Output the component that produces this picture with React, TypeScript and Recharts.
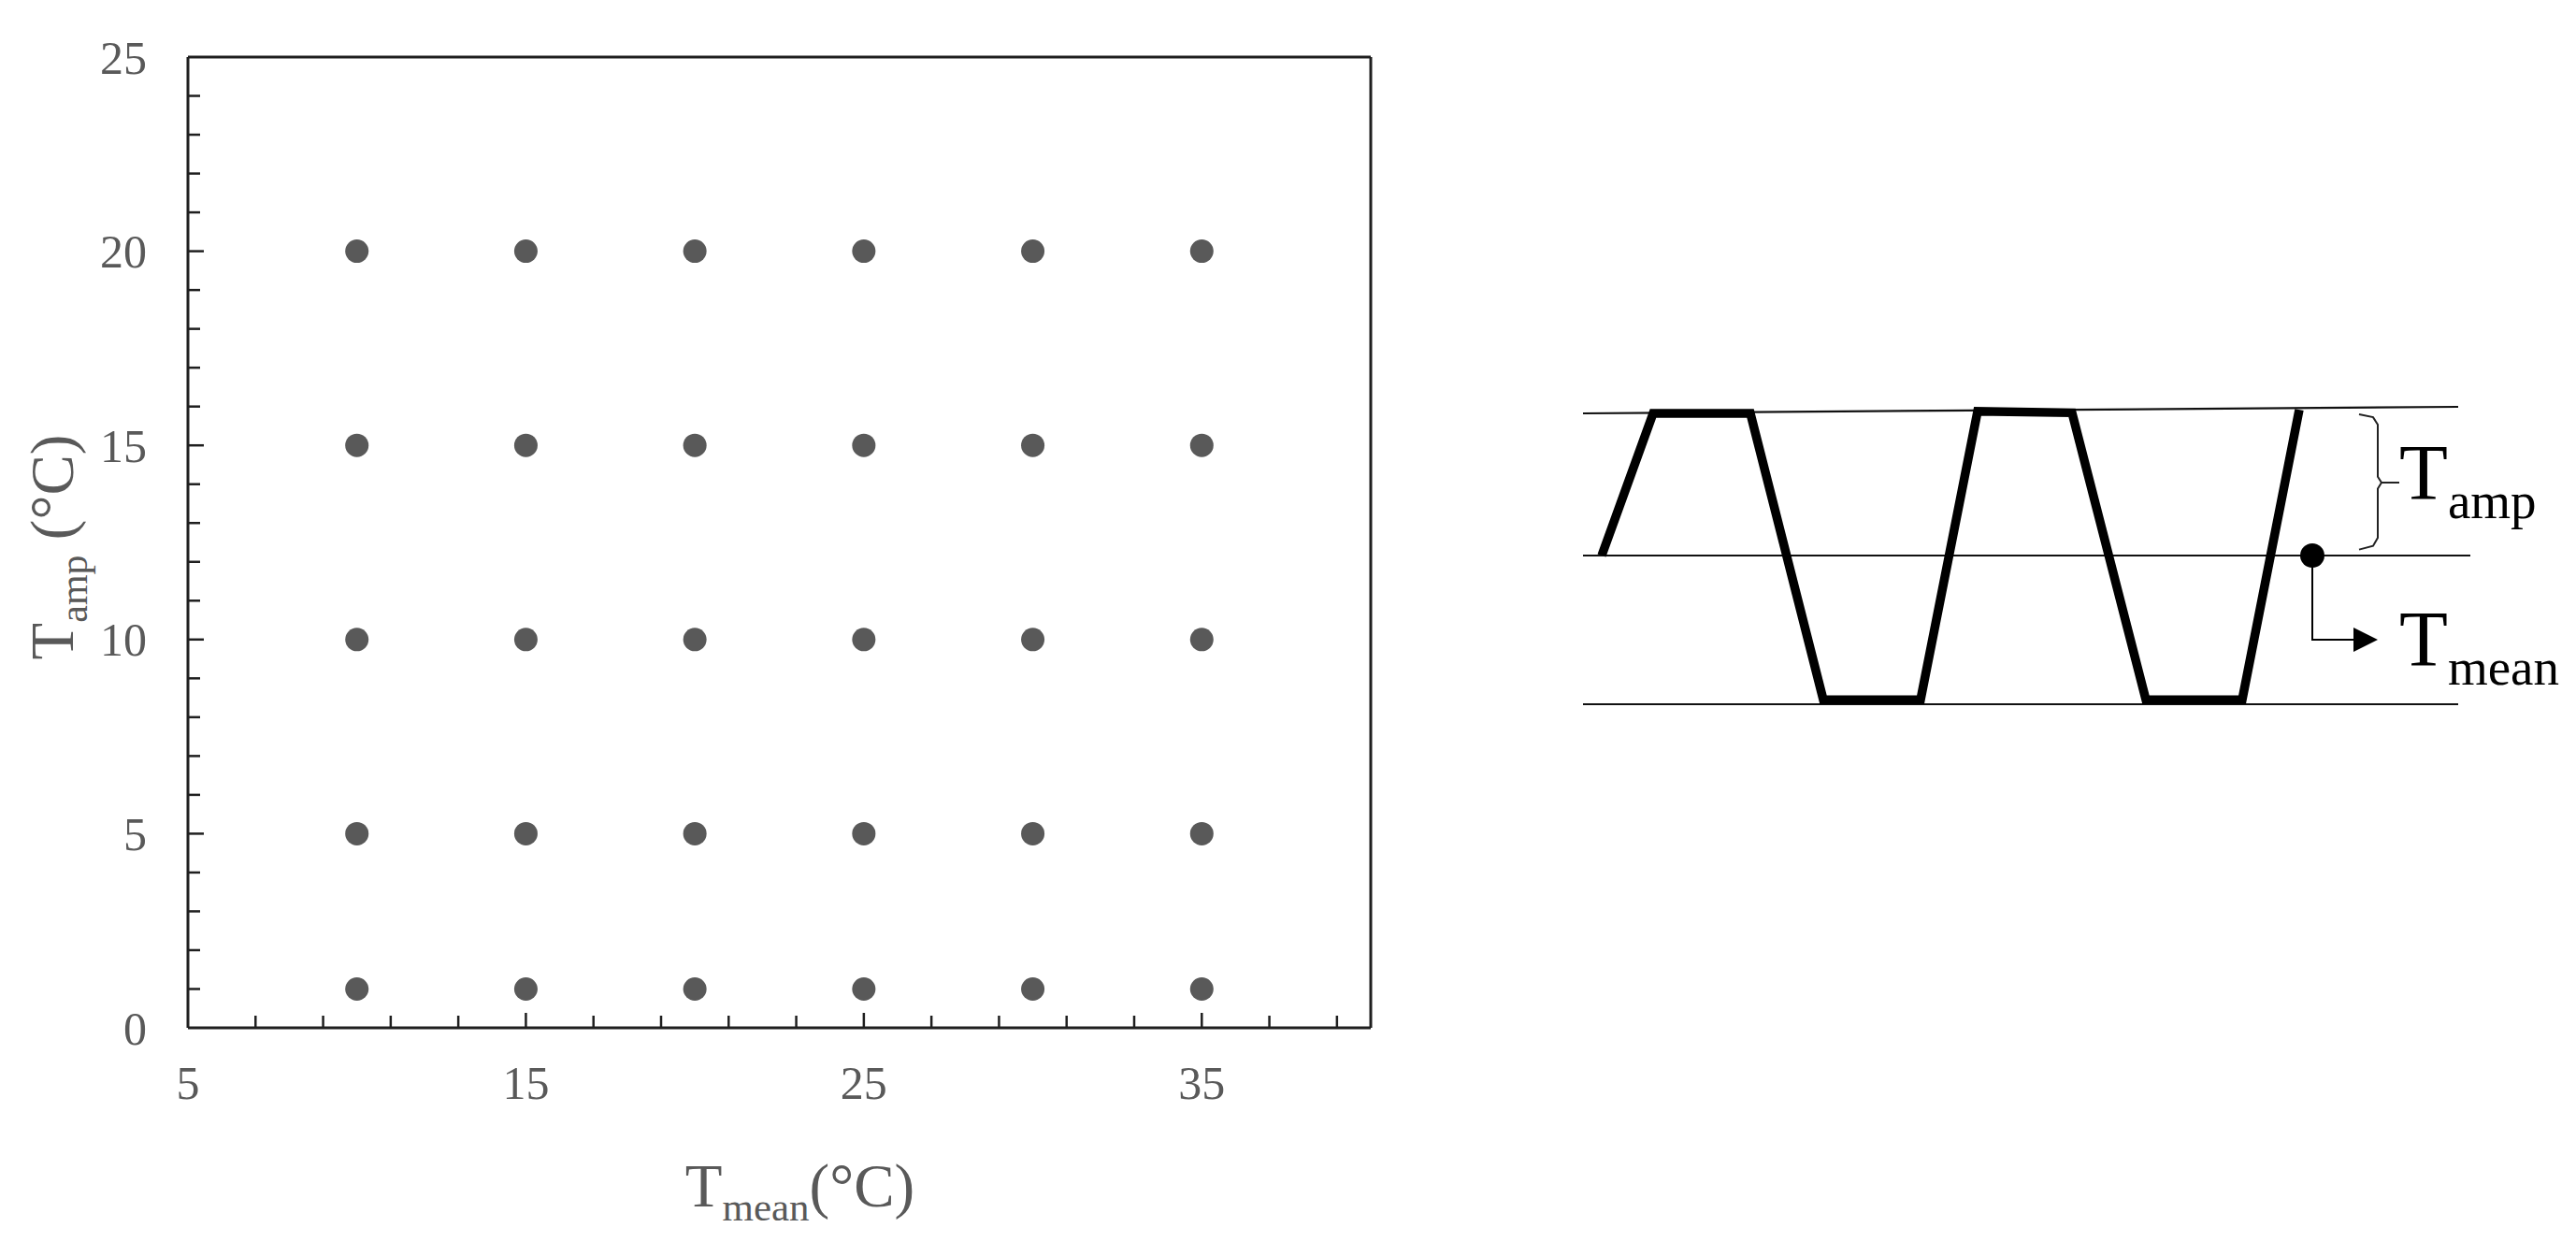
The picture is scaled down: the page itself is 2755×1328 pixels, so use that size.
import React from "react";
import {
  ScatterChart,
  Scatter,
  XAxis,
  YAxis,
  ReferenceLine,
  ReferenceDot,
  LineChart,
  Line,
  Label,
} from "recharts";

// ---- scatter: tested temperature regimes ----
const tmeanValues = [10, 15, 20, 25, 30, 35];
const tampValues = [1, 5, 10, 15, 20];

const xTicks = [5, 7, 9, 11, 13, 15, 17, 19, 21, 23, 25, 27, 29, 31, 33, 35, 37, 39];
const xTickLabels = [5, 15, 25, 35];
const yTicks = [0, 1, 2, 3, 4, 5, 6, 7, 8, 9, 10, 11, 12, 13, 14, 15, 16, 17, 18, 19, 20, 21, 22, 23, 24, 25];
const yTickLabels = [0, 5, 10, 15, 20, 25];

// ---- schematic of the fluctuating regime (time offset, relative temp) ----
const waveTime = [20, 75, 179, 257, 361, 422, 523, 602, 705, 766];
const waveTemp = [0, 0.956, 0.956, -0.97, -0.97, 0.97, 0.96, -0.97, -0.97, 0.98];
const guideTime = [0, 936];
const upperGuide = [0.956, 1.0];
const lowerGuide = [-1, -1];
const meanGuideEnd = 949;
const braceTime = [830, 845, 850, 850, 854, 873, 854, 850, 850, 845, 830];
const braceTemp = [0.95, 0.93, 0.88, 0.53, 0.49, 0.49, 0.49, 0.45, 0.12, 0.065, 0.04];
const arrowTime = [780, 780, 824];
const arrowTemp = [0, -0.566, -0.566];

const points = tmeanValues.flatMap((t) => tampValues.map((a) => ({ tmean: t, tamp: a })));
const toRows = (xs: number[], ys: number[]) => xs.map((x, i) => ({ x, y: ys[i] }));

const GREY = "#595959";
const AXIS = "#1f1f1f";
const FONT = "'Liberation Serif', 'Times New Roman', serif";

const YTick = (props: any) => {
  const { x, y, payload } = props;
  const v = payload.value;
  const major = v % 5 === 0;
  return (
    <g>
      {v !== 0 && v !== 25 && (
        <line x1={x} x2={x + (major ? 17 : 13)} y1={y} y2={y} stroke={AXIS} strokeWidth={2.5} />
      )}
      {yTickLabels.includes(v) && (
        <text x={x - 44} y={y} dy="0.35em" textAnchor="end" fill={GREY} fontSize={50} fontFamily={FONT}>
          {v}
        </text>
      )}
    </g>
  );
};

const XTick = (props: any) => {
  const { x, y, payload } = props;
  const v = payload.value;
  const major = xTickLabels.includes(v);
  return (
    <g>
      {v !== 5 && (
        <line x1={x} x2={x} y1={y} y2={y - (major ? 16 : 13)} stroke={AXIS} strokeWidth={2.5} />
      )}
      {major && (
        <text x={x} y={y + 58} dy="0.35em" textAnchor="middle" fill={GREY} fontSize={50} fontFamily={FONT}>
          {v}
        </text>
      )}
    </g>
  );
};

const XTitle = (props: any) => {
  const vb = props.viewBox;
  return (
    <text
      x={vb.x + vb.width / 2 + 22}
      y={vb.y + 191}
      textAnchor="middle"
      fill={GREY}
      fontSize={65}
      fontFamily={FONT}
    >
      T<tspan fontSize={43} dy={15}>mean</tspan>
      <tspan dy={-15}>(°C)</tspan>
    </text>
  );
};

const YTitle = (props: any) => {
  const vb = props.viewBox;
  const cx = vb.x + vb.width - 123;
  const cy = vb.y + vb.height / 2 + 5;
  return (
    <text
      x={cx}
      y={cy}
      transform={`rotate(-90, ${cx}, ${cy})`}
      textAnchor="middle"
      fill={GREY}
      fontSize={65}
      fontFamily={FONT}
    >
      T<tspan fontSize={42} dy={15}>amp</tspan>
      <tspan dy={-15}> (°C)</tspan>
    </text>
  );
};

const Dot = (props: any) => <circle cx={props.cx} cy={props.cy} r={12.5} fill={GREY} />;

const ArrowHead = (props: any) => {
  const { cx, cy } = props;
  return <polygon points={`${cx - 13},${cy - 13} ${cx + 13},${cy} ${cx - 13},${cy + 13}`} fill="#000" />;
};

const makeSymbol = (sub: string, dy: number) => (props: any) => (
  <text x={props.cx} y={props.cy} fill="#000" fontSize={85} fontFamily={FONT}>
    T<tspan fontSize={55} dy={dy}>{sub}</tspan>
  </text>
);

export default function App() {
  return (
    <div style={{ position: "absolute", left: 0, top: 0, width: 2755, height: 1328, background: "#fff", fontFamily: FONT }}>
      <div style={{ position: "absolute", left: 0, top: 0 }}>
        <ScatterChart width={1600} height={1328} margin={{ top: 61, right: 134, bottom: 129, left: 101 }}>
          <XAxis
            type="number"
            dataKey="tmean"
            domain={[5, 40]}
            ticks={xTicks}
            interval={0}
            height={100}
            tickSize={0}
            tickMargin={0}
            tickLine={false}
            tick={<XTick />}
            axisLine={{ stroke: AXIS, strokeWidth: 3 }}
            allowDataOverflow
          >
            <Label content={<XTitle />} />
          </XAxis>
          <YAxis
            type="number"
            dataKey="tamp"
            domain={[0, 25]}
            ticks={yTicks}
            interval={0}
            width={100}
            tickSize={0}
            tickMargin={0}
            tickLine={false}
            tick={<YTick />}
            axisLine={{ stroke: AXIS, strokeWidth: 3 }}
            allowDataOverflow
          >
            <Label content={<YTitle />} />
          </YAxis>
          <ReferenceLine y={25} stroke={AXIS} strokeWidth={3} />
          <ReferenceLine x={40} stroke={AXIS} strokeWidth={3} />
          <Scatter data={points} shape={<Dot />} isAnimationActive={false} />
        </ScatterChart>
      </div>

      <div style={{ position: "absolute", left: 1600, top: 380 }}>
        <LineChart width={1155} height={450} margin={{ top: 55, right: 113, bottom: 77, left: 93 }}>
          <XAxis type="number" dataKey="x" domain={[0, meanGuideEnd]} hide />
          <YAxis type="number" dataKey="y" domain={[-1, 1]} hide />
          <ReferenceLine segment={[{ x: 0, y: 0 }, { x: meanGuideEnd, y: 0 }]} stroke="#111" strokeWidth={2.2} />
          <Line data={toRows(guideTime, upperGuide)} dataKey="y" stroke="#111" strokeWidth={2.2} dot={false} isAnimationActive={false} />
          <Line data={toRows(guideTime, lowerGuide)} dataKey="y" stroke="#111" strokeWidth={2.2} dot={false} isAnimationActive={false} />
          <Line
            data={toRows(waveTime, waveTemp)}
            dataKey="y"
            type="linear"
            stroke="#000"
            strokeWidth={9.5}
            strokeLinejoin="miter"
            dot={false}
            isAnimationActive={false}
          />
          <Line data={toRows(braceTime, braceTemp)} dataKey="y" type="linear" stroke="#222" strokeWidth={2} dot={false} isAnimationActive={false} />
          <Line data={toRows(arrowTime, arrowTemp)} dataKey="y" type="linear" stroke="#000" strokeWidth={2} dot={false} isAnimationActive={false} />
          <ReferenceDot x={780} y={0} r={13} fill="#000" stroke="none" />
          <ReferenceDot x={837} y={-0.566} shape={<ArrowHead />} />
          <ReferenceDot x={873} y={0.377} shape={makeSymbol("amp", 20)} />
          <ReferenceDot x={873} y={-0.742} shape={makeSymbol("mean", 20)} />
        </LineChart>
      </div>
    </div>
  );
}
